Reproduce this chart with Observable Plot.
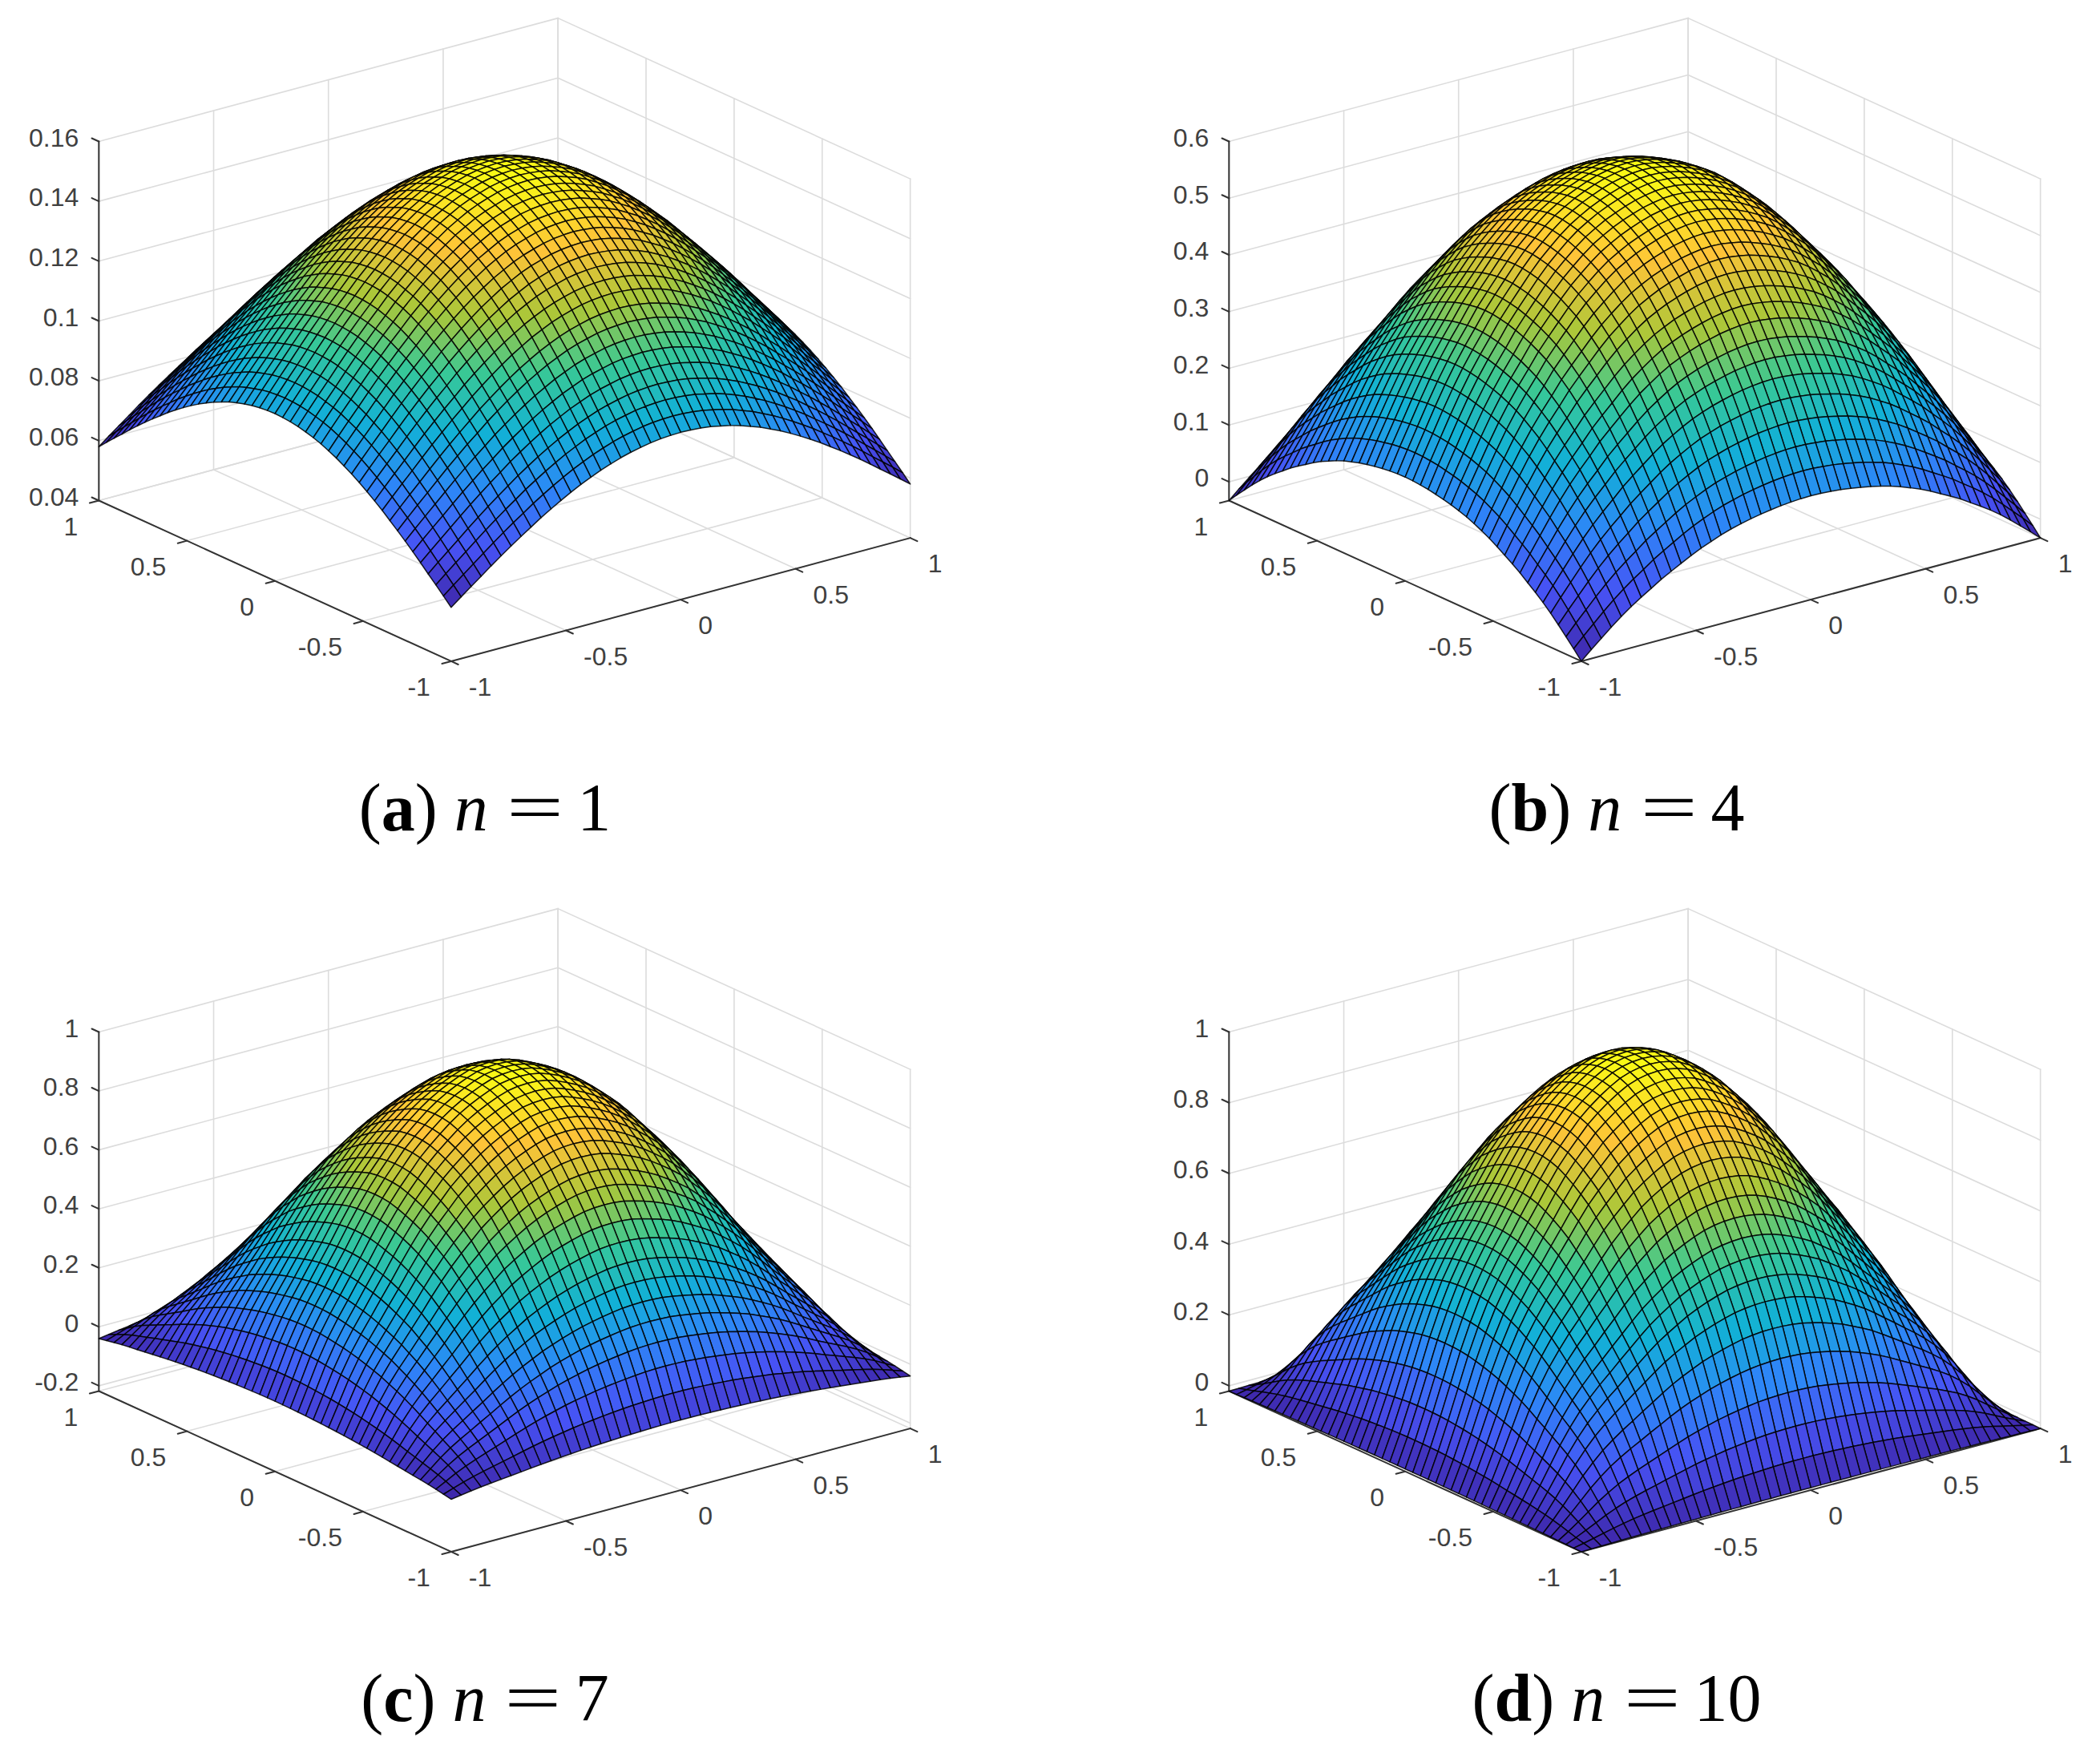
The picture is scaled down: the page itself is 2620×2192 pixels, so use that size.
<!DOCTYPE html>
<html><head><meta charset="utf-8">
<style>
html,body{margin:0;padding:0;background:#fff}
#page{display:grid;grid-template-columns:1310px 1310px;grid-template-rows:1111px 1081px;width:2620px;height:2192px;overflow:hidden}
.cell{position:relative}
.cell svg{display:block}
.cap{position:absolute;top:966px;transform:translateX(-50%);font:84px/84px "Liberation Serif",serif;color:#000;white-space:pre}
.cap .eq{display:inline-block;transform:scaleX(1.5);margin:0 8px 0 14px}
</style>
<script src="https://cdn.jsdelivr.net/npm/d3@7"></script>
<script src="https://cdn.jsdelivr.net/npm/@observablehq/plot@0.6"></script>
</head><body><div id="page"></div>
<script>
// Values. Each centre-line array runs from the edge (|x|=1) to the centre (x=0).
// Only these profiles and the corner values are read. Interior mesh nodes are NOT read individually:
// they are built as a product of the panel's profile with itself, anchored to corner and peak.
const centreA = [.0959,.1002,.1044,.1085,.1127,.1168,.1207,.1245,.1281,.1318,.1351,.1383,.1413,.1441,.1466,.1490,.1510,.1529,.1544,.1556,.1567,.1574,.1578,.158];
const centreB = [.150,.188,.224,.260,.294,.325,.353,.379,.406,.429,.451,.473,.493,.510,.526,.540,.551,.561,.569,.576,.582,.586,.589,.590];
const centreC = [.020,.099,.179,.248,.307,.361,.416,.470,.527,.581,.631,.676,.717,.758,.791,.821,.849,.873,.893,.910,.925,.937,.943,.945];
const centreD = [-.008,.065,.146,.231,.317,.392,.458,.513,.563,.608,.655,.700,.746,.789,.825,.858,.890,.915,.937,.956,.972,.982,.988,.990];
const cornerA = .058, cornerB = -.033, cornerC = -.04, cornerD = -.015;

const xyTicks = [-1,-.5,0,.5,1];
const xyLabels = ["-1","-0.5","0","0.5","1"];
const zTicksA = [.04,.06,.08,.1,.12,.14,.16];
const zLabelsA = ["0.04","0.06","0.08","0.1","0.12","0.14","0.16"];
const zTicksB = [0,.1,.2,.3,.4,.5,.6];
const zLabelsB = ["0","0.1","0.2","0.3","0.4","0.5","0.6"];
const zTicksC = [-.2,0,.2,.4,.6,.8,1];
const zLabelsC = ["-0.2","0","0.2","0.4","0.6","0.8","1"];
const zTicksD = [0,.2,.4,.6,.8,1];
const zLabelsD = ["0","0.2","0.4","0.6","0.8","1"];

const parula = ["#3e26a8","#4752f4","#2d87f7","#12b1d6","#37c897","#abc739","#fec338","#f9fb15"];

const panels = [
  {letter:"a", n:"1",  centre:centreA, corner:cornerA, zlim:[.04,.16],  zTicks:zTicksA, zLabels:zLabelsA, cx:629, capX:605},
  {letter:"b", n:"4",  centre:centreB, corner:cornerB, zlim:[-.033,.6], zTicks:zTicksB, zLabels:zLabelsB, cx:729, capX:707},
  {letter:"c", n:"7",  centre:centreC, corner:cornerC, zlim:[-.218,1],  zTicks:zTicksC, zLabels:zLabelsC, cx:629, capX:605},
  {letter:"d", n:"10", centre:centreD, corner:cornerD, zlim:[-.015,1],  zTicks:zTicksD, zLabels:zLabelsD, cx:729, capX:707}
];

// Orthographic view of the box (azimuth -37.5 degrees).
const A = 37.5*Math.PI/180, sinEl = .35, zBox = 1.241, unitPx = 361, groundPx = 647.3, W = 1310, H = 900;
const view = (x,y,zn) => ({u: x*Math.cos(A) - y*Math.sin(A), v: (x*Math.sin(A) + y*Math.cos(A))*sinEl + zn*zBox});

function buildPlot(p){
  const zn = z => (z-p.zlim[0])/(p.zlim[1]-p.zlim[0]);
  const pt = (x,y,z) => view(x,y,zn(z));
  const [z0,z1] = p.zlim;
  const seg = (rows,id,a,b) => { rows.push({id,...pt(...a)}); rows.push({id,...pt(...b)}); };

  // walls and floor grid
  const grid = []; let g = 0;
  for (const t of xyTicks){
    seg(grid,g++,[t,-1,z0],[t,1,z0]);
    seg(grid,g++,[-1,t,z0],[1,t,z0]);
    seg(grid,g++,[t,1,z0],[t,1,z1]);
    seg(grid,g++,[1,t,z0],[1,t,z1]);
  }
  for (const z of p.zTicks){
    seg(grid,g++,[-1,1,z],[1,1,z]);
    seg(grid,g++,[1,1,z],[1,-1,z]);
  }

  // axes and tick marks
  const axes = []; let a = 0;
  seg(axes,a++,[-1,1,z0],[-1,1,z1]);
  seg(axes,a++,[-1,1,z0],[-1,-1,z0]);
  seg(axes,a++,[-1,-1,z0],[1,-1,z0]);
  const tl = .04;
  for (const t of xyTicks){
    seg(axes,a++,[t,-1,z0],[t,-1-tl,z0]);
    seg(axes,a++,[-1,t,z0],[-1-tl,t,z0]);
  }
  for (const z of p.zTicks) seg(axes,a++,[-1,1,z],[-1,1+tl,z]);

  // mesh nodes: table built from the read profile and corner value
  const half = p.centre.length, N = 2*half-1, peak = p.centre[half-1], e = p.centre[0];
  const k = (p.corner*peak - e*e)/(p.corner + peak - 2*e);
  const prof = i => p.centre[i < half ? i : N-1-i];
  const zAt = (i,j) => k + (prof(i)-k)*(prof(j)-k)/(peak-k);
  const coord = i => -1 + 2*i/(N-1);
  const quads = [];
  for (let i=0;i<N-1;i++) for (let j=0;j<N-1;j++){
    const x = coord(i)+1/(N-1), y = coord(j)+1/(N-1);
    quads.push({i,j,depth:x*Math.sin(A)+y*Math.cos(A)});
  }
  quads.sort((q,r)=>r.depth-q.depth);
  const mesh = [];
  quads.forEach((q,id)=>{
    const c = [[q.i,q.j],[q.i+1,q.j],[q.i+1,q.j+1],[q.i,q.j+1]];
    const zm = d3.mean(c,([i,j])=>zAt(i,j));
    for (const [i,j] of c) mesh.push({id,zm,...view(coord(i),coord(j),zn(zAt(i,j)))});
  });

  const xLab = xyTicks.map((t,i)=>({...pt(t,-1,z0),s:xyLabels[i]}));
  const yLab = xyTicks.map((t,i)=>({...pt(-1,t,z0),s:xyLabels[i]}));
  const zLab = p.zTicks.map((z,i)=>({...pt(-1,1,z),s:p.zLabels[i]}));
  const txt = {x:"u",y:"v",text:"s",fontFamily:"Liberation Sans, Arial, sans-serif",fontSize:32,fill:"#404040"};
  const [lo,hi] = [p.corner,peak];

  return Plot.plot({
    width:W,height:H,margin:0,
    style:{background:"#fff"},
    x:{axis:null,domain:[-p.cx/unitPx,(W-p.cx)/unitPx],range:[0,W]},
    y:{axis:null,domain:[(groundPx-H)/unitPx,groundPx/unitPx],range:[H,0]},
    color:{type:"linear",domain:parula.map((_,i)=>lo+(hi-lo)*i/(parula.length-1)),range:parula},
    marks:[
      Plot.line(grid,{x:"u",y:"v",z:"id",stroke:"#dcdcdc",strokeWidth:1.6}),
      Plot.line(axes,{x:"u",y:"v",z:"id",stroke:"#333",strokeWidth:2}),
      Plot.line(mesh,{x:"u",y:"v",z:"id",fill:"zm",stroke:"#000",strokeWidth:1.5,strokeOpacity:.85,curve:"linear-closed"}),
      Plot.text(zLab,{...txt,textAnchor:"end",dx:-25,dy:-4}),
      Plot.text(yLab,{...txt,textAnchor:"end",dx:-26,dy:33}),
      Plot.text(xLab,{...txt,textAnchor:"start",dx:22,dy:33})
    ]
  });
}

const page = document.getElementById("page");
for (const p of panels){
  const cell = document.createElement("div");
  cell.className = "cell";
  cell.appendChild(buildPlot(p));
  const cap = document.createElement("div");
  cap.className = "cap";
  cap.style.left = p.capX+"px";
  cap.innerHTML = `(<b>${p.letter}</b>) <i>n</i> <span class="eq">=</span> ${p.n}`;
  cell.appendChild(cap);
  page.appendChild(cell);
}
</script></body></html>
